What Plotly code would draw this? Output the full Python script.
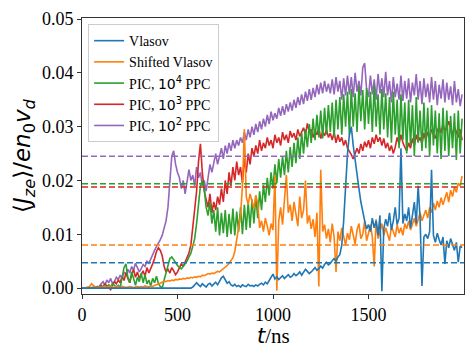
import plotly.graph_objects as go

# time grid (ns), one sample every 10 ns
t_ns = list(range(0, 2000, 10))

vlasov = [
    0, 0, 0, 0, 0, 0, 0, 0, 0, 0,
    0, 0, 0, 0, 0, 0, 0, 0, 0, 0,
    0, 0, 0, 0, 0, 0, 0, 0, 0, 0,
    0, 0, 0, 0, 0, 0, 0, 0, 0, 0,
    0, 0, 0, 0, 0, 0, 0, 0, 0, 0,
    0, 0, 0, 0, 0, 0, 0, 0, 0.0002, 0.0006,
    0.0010, 0.0006, 0.0003, 0.0008, 0.0005, 0.0002, 0.0007, 0.0009, 0.0004, 0.0008,
    0.0011, 0.0006, 0.0014, 0.0019, 0.0022, 0.0015, 0.0009, 0.0012, 0.0006, 0.0004,
    0.0007, 0.0003, 0.0005, 0.0002, 0.0006, 0.0004, 0.0003, 0.0007, 0.0004, 0.0005,
    0.0003, 0.0006, 0.0004, 0.0007, 0.0009, 0.0006, 0.0011, 0.0008, 0.0014, 0.0022,
    0.0026, 0.0017, 0.0021, 0.0016, 0.0019, 0.0023, 0.0018, 0.0021, 0.0025, 0.0020,
    0.0022, 0.0027, 0.0023, 0.0026, 0.0030, 0.0024, 0.0029, 0.0035, 0.0031, 0.0027,
    0.0030, 0.0034, 0.0038, 0.0033, 0.0036, 0.0041, 0.0037, 0.0044, 0.0048, 0.0043,
    0.0046, 0.0051, 0.0055, 0.0050, 0.0058, 0.0062, 0.0080, 0.0125, 0.0190, 0.0250,
    0.0285, 0.0300, 0.0265, 0.0235, 0.0210, 0.0185, 0.0160, 0.0140, 0.0125, 0.0110,
    0.0118, 0.0105, 0.0130, 0.0112, 0.0125, 0.0098, 0.0135, -0.0006, 0.0110, 0.0128,
    0.0115, 0.0140, 0.0108, 0.0125, 0.0150, 0.0118, 0.0130, 0.0260, 0.0120, 0.0138,
    0.0125, 0.0150, 0.0112, 0.0135, 0.0160, 0.0120, 0.0190, 0.0130, 0.0004, 0.0095,
    0.0100, 0.0092, 0.0105, 0.0220, 0.0098, 0.0085, 0.0102, 0.0090, 0.0080, 0.0095,
    0.0045, 0.0088, 0.0075, 0.0092, 0.0080, 0.0070, 0.0085, 0.0048, 0.0078, 0.0075,
]

shifted_vlasov = [
    0, 0, 0.0001, 0.0002, 0.0003, 0.0008, 0.0005, 0.0002, 0.0001, 0.0002,
    0.0001, 0.0002, 0.0003, 0.0001, 0.0002, 0.0004, 0.0002, 0.0001, 0.0003, 0.0002,
    0.0001, 0.0003, 0.0002, 0.0001, 0.0002, 0.0003, 0.0002, 0.0001, 0.0002, 0.0003,
    0.0002, 0.0003, 0.0002, 0.0004, 0.0003, 0.0002, 0.0004, 0.0003, 0.0005, 0.0006,
    0.0007, 0.0009, 0.0011, 0.0013, 0.0012, 0.0014, 0.0013, 0.0015, 0.0014, 0.0016,
    0.0015, 0.0017, 0.0016, 0.0018, 0.0017, 0.0019, 0.0018, 0.0020, 0.0019, 0.0021,
    0.0020, 0.0022, 0.0021, 0.0024, 0.0023, 0.0025, 0.0027, 0.0026, 0.0028, 0.0027,
    0.0029, 0.0031, 0.0030, 0.0033, 0.0035, 0.0038, 0.0042, 0.0046, 0.0050, 0.0056,
    0.0068, 0.0090, 0.0110, 0.0135, 0.0190, 0.0295, 0.0170, 0.0155, 0.0175, 0.0160,
    0.0148, 0.0172, 0.0158, 0.0112, 0.0125, 0.0105, 0.0130, 0.0115, 0.0098, 0.0120,
    0.0108, 0.0210, -0.0005, 0.0125, 0.0150, 0.0118, 0.0165, 0.0210, 0.0140, 0.0155,
    0.0125, 0.0160, 0.0138, 0.0115, 0.0170, 0.0130, 0.0145, 0.0200, 0.0120, 0.0135,
    0.0110, 0.0128, 0.0095, 0.0140, 0.0003, 0.0220, 0.0105, 0.0118, 0.0092, 0.0110,
    0.0085, 0.0120, 0.0095, 0.0030, 0.0105, 0.0088, 0.0112, 0.0095, 0.0080, 0.0102,
    0.0090, 0.0115, 0.0098, 0.0082, 0.0108, 0.0120, 0.0092, 0.0100, 0.0125, 0.0088,
    0.0102, 0.0118, 0.0095, 0.0040, 0.0128, 0.0092, 0.0105, 0.0120, 0.0098, 0.0112,
    0.0100, 0.0088, 0.0115, 0.0105, 0.0095, 0.0118, 0.0102, 0.0112, 0.0098, 0.0120,
    0.0110, 0.0125, 0.0108, 0.0118, 0.0130, 0.0115, 0.0128, 0.0140, 0.0125, 0.0135,
    0.0145, 0.0130, 0.0150, 0.0140, 0.0158, 0.0145, 0.0162, 0.0150, 0.0168, 0.0155,
    0.0165, 0.0178, 0.0160, 0.0182, 0.0170, 0.0188, 0.0178, 0.0195, 0.0190, 0.0208,
]

pic_1e4 = [
    0, 0, 0, 0, 0, 0, 0, 0.0001, 0.0002, 0.0001,
    0.0003, 0.0001, 0.0004, 0.0002, 0.0006, 0.0003, 0.0008, 0.0004, 0.0002, 0.0005,
    0.0001, 0.0020, 0.0038, 0.0045, 0.0020, 0.0010, 0.0030, 0.0018, 0.0005, 0.0020,
    0.0012, 0.0028, 0.0010, 0.0025, 0.0008, 0.0015, 0.0004, 0.0018, 0.0010, 0.0022,
    0.0008, 0.0003, 0.0000, 0.0015, 0.0030, 0.0045, 0.0055, 0.0058, 0.0052, 0.0047,
    0.0042, 0.0038, 0.0036, 0.0040, 0.0045, 0.0050, 0.0058, 0.0065, 0.0078, 0.0092,
    0.0120, 0.0160, 0.0190, 0.0200, 0.0185, 0.0150, 0.0135, 0.0160, 0.0120, 0.0145,
    0.0105, 0.0150, 0.0098, 0.0140, 0.0102, 0.0145, 0.0095, 0.0138, 0.0100, 0.0148,
    0.0098, 0.0142, 0.0105, 0.0150, 0.0100, 0.0155, 0.0108, 0.0160, 0.0112, 0.0165,
    0.0120, 0.0172, 0.0130, 0.0180, 0.0145, 0.0192, 0.0160, 0.0205, 0.0172, 0.0215,
    0.0185, 0.0230, 0.0195, 0.0240, 0.0205, 0.0245, 0.0210, 0.0255, 0.0215, 0.0262,
    0.0225, 0.0270, 0.0232, 0.0280, 0.0240, 0.0288, 0.0250, 0.0295, 0.0262, 0.0305,
    0.0270, 0.0315, 0.0275, 0.0322, 0.0280, 0.0330, 0.0278, 0.0335, 0.0285, 0.0340,
    0.0290, 0.0345, 0.0280, 0.0350, 0.0295, 0.0355, 0.0285, 0.0360, 0.0300, 0.0365,
    0.0285, 0.0370, 0.0300, 0.0362, 0.0290, 0.0375, 0.0310, 0.0368, 0.0295, 0.0372,
    0.0305, 0.0365, 0.0290, 0.0378, 0.0300, 0.0360, 0.0285, 0.0370, 0.0295, 0.0362,
    0.0280, 0.0355, 0.0270, 0.0365, 0.0285, 0.0350, 0.0260, 0.0360, 0.0275, 0.0345,
    0.0250, 0.0350, 0.0265, 0.0340, 0.0245, 0.0355, 0.0270, 0.0330, 0.0255, 0.0345,
    0.0260, 0.0335, 0.0245, 0.0340, 0.0265, 0.0330, 0.0250, 0.0325, 0.0240, 0.0335,
    0.0255, 0.0330, 0.0245, 0.0320, 0.0260, 0.0325, 0.0238, 0.0330, 0.0250, 0.0315,
]

pic_1e3 = [
    0, 0, 0, 0, 0, 0, 0.0001, 0.0002, 0.0001, 0.0003,
    0.0005, 0.0002, 0.0008, 0.0004, 0.0001, -0.0003, 0.0006, 0.0012, 0.0008, 0.0015,
    0.0010, 0.0022, 0.0014, 0.0028, 0.0018, 0.0010, 0.0025, 0.0035, 0.0020, 0.0030,
    0.0018, 0.0025, 0.0032, 0.0022, 0.0038, 0.0028, 0.0035, 0.0045, 0.0055, 0.0068,
    0.0075, 0.0070, 0.0060, 0.0040, 0.0030, 0.0035, 0.0028, 0.0038, 0.0032, 0.0025,
    0.0030, 0.0038, 0.0045, 0.0040, 0.0048, 0.0058, 0.0065, 0.0080, 0.0110, 0.0150,
    0.0180, 0.0235, 0.0268, 0.0215, 0.0180, 0.0165, 0.0150, 0.0175, 0.0140, 0.0160,
    0.0145, 0.0170, 0.0155, 0.0185, 0.0160, 0.0200, 0.0175, 0.0215, 0.0190, 0.0225,
    0.0200, 0.0235, 0.0210, 0.0225, 0.0195, 0.0240, 0.0215, 0.0250, 0.0230, 0.0260,
    0.0245, 0.0265, 0.0250, 0.0275, 0.0255, 0.0270, 0.0260, 0.0280, 0.0265, 0.0275,
    0.0260, 0.0285, 0.0270, 0.0280, 0.0265, 0.0290, 0.0275, 0.0285, 0.0270, 0.0292,
    0.0280, 0.0288, 0.0275, 0.0295, 0.0282, 0.0290, 0.0298, 0.0285, 0.0306, 0.0290,
    0.0295, 0.0280, 0.0292, 0.0285, 0.0298, 0.0278, 0.0290, 0.0283, 0.0295, 0.0280,
    0.0288, 0.0275, 0.0290, 0.0270, 0.0285, 0.0272, 0.0280, 0.0265, 0.0275, 0.0260,
    0.0255, 0.0248, 0.0240, 0.0252, 0.0260, 0.0250, 0.0268, 0.0255, 0.0272, 0.0262,
    0.0275, 0.0260, 0.0280, 0.0268, 0.0285, 0.0272, 0.0280, 0.0265, 0.0278, 0.0260,
    0.0270, 0.0255, 0.0265, 0.0250, 0.0262, 0.0280, 0.0268, 0.0285, 0.0270, 0.0262,
    0.0255, 0.0270, 0.0260, 0.0278, 0.0265, 0.0285, 0.0272, 0.0280, 0.0268, 0.0288,
    0.0275, 0.0290, 0.0280, 0.0295, 0.0285, 0.0278, 0.0292, 0.0300, 0.0288, 0.0305,
    0.0292, 0.0298, 0.0310, 0.0295, 0.0285, 0.0300, 0.0290, 0.0280, 0.0295, 0.0275,
]

pic_1e2 = [
    0, 0, 0, 0, 0, 0.0001, 0.0002, 0.0001, 0.0003, 0.0002,
    0.0008, 0.0012, 0.0005, 0.0015, 0.0010, 0.0018, 0.0008, 0.0012, 0.0020, 0.0016,
    0.0024, 0.0018, 0.0030, 0.0026, 0.0035, 0.0028, 0.0040, 0.0034, 0.0046, 0.0038,
    0.0030, 0.0036, 0.0044, 0.0040, 0.0050, 0.0046, 0.0055, 0.0062, 0.0070, 0.0077,
    0.0083, 0.0090, 0.0098, 0.0110, 0.0125, 0.0150, 0.0190, 0.0245, 0.0255, 0.0230,
    0.0215, 0.0205, 0.0185, 0.0200, 0.0175, 0.0195, 0.0220, 0.0200, 0.0210, 0.0190,
    0.0225, 0.0205, 0.0215, 0.0190, 0.0200, 0.0180, 0.0210, 0.0230, 0.0215, 0.0235,
    0.0250, 0.0230, 0.0245, 0.0260, 0.0240, 0.0265, 0.0250, 0.0270, 0.0255, 0.0275,
    0.0260, 0.0275, 0.0265, 0.0280, 0.0270, 0.0290, 0.0275, 0.0295, 0.0280, 0.0300,
    0.0285, 0.0305, 0.0290, 0.0310, 0.0295, 0.0315, 0.0300, 0.0322, 0.0305, 0.0328,
    0.0312, 0.0325, 0.0315, 0.0335, 0.0320, 0.0338, 0.0322, 0.0342, 0.0328, 0.0345,
    0.0330, 0.0350, 0.0335, 0.0355, 0.0340, 0.0360, 0.0342, 0.0365, 0.0348, 0.0370,
    0.0350, 0.0372, 0.0355, 0.0378, 0.0360, 0.0382, 0.0362, 0.0385, 0.0365, 0.0380,
    0.0362, 0.0388, 0.0360, 0.0392, 0.0365, 0.0385, 0.0350, 0.0390, 0.0358, 0.0395,
    0.0360, 0.0392, 0.0355, 0.0400, 0.0365, 0.0385, 0.0358, 0.0410, 0.0418, 0.0370,
    0.0355, 0.0395, 0.0360, 0.0388, 0.0350, 0.0398, 0.0362, 0.0390, 0.0355, 0.0402,
    0.0358, 0.0385, 0.0345, 0.0392, 0.0355, 0.0380, 0.0350, 0.0395, 0.0348, 0.0385,
    0.0352, 0.0390, 0.0345, 0.0382, 0.0358, 0.0398, 0.0350, 0.0385, 0.0342, 0.0390,
    0.0355, 0.0380, 0.0345, 0.0392, 0.0350, 0.0385, 0.0340, 0.0378, 0.0352, 0.0388,
    0.0345, 0.0382, 0.0350, 0.0375, 0.0340, 0.0385, 0.0345, 0.0370, 0.0338, 0.0360,
]

# saturation (mean) levels shown as dashed lines
level_vals = [0.0047, 0.0080, 0.0194, 0.0188, 0.0245]

SERIF = "Liberation Serif, Tinos, Times New Roman, DejaVu Serif, serif"
SANS = "DejaVu Sans, sans-serif"

names = ["Vlasov", "Shifted Vlasov",
         "PIC, <span style='font-family:DejaVu Sans'>10<sup>4</sup></span> PPC",
         "PIC, <span style='font-family:DejaVu Sans'>10<sup>3</sup></span> PPC",
         "PIC, <span style='font-family:DejaVu Sans'>10<sup>2</sup></span> PPC"]
series = [vlasov, shifted_vlasov, pic_1e4, pic_1e3, pic_1e2]
colors = ["#1f77b4", "#ff7f0e", "#2ca02c", "#d62728", "#9467bd"]

fig = go.Figure()

# draw PIC first, Vlasov last (Vlasov on top), legend in original order
for i in [4, 3, 2, 1, 0]:
    fig.add_trace(go.Scatter(
        x=t_ns, y=series[i], mode="lines", name=names[i],
        line=dict(color=colors[i], width=1.6),
        legendrank=i + 1,
    ))

for i in range(5):
    fig.add_trace(go.Scatter(
        x=[t_ns[0], 2000], y=[level_vals[i], level_vals[i]], mode="lines",
        line=dict(color=colors[i], width=1.5, dash="6px,3px"),
        showlegend=False, hoverinfo="skip",
    ))

fig.add_annotation(
    text="<i>t</i><span style='font-family:Liberation Serif'>/ns</span>",
    xref="paper", yref="paper", x=0.5, y=-0.152, xanchor="center", yanchor="middle",
    showarrow=False, font=dict(family=SANS, size=21, color="black"),
)
fig.add_annotation(
    text="⟨<i>J</i><sub><i>ze</i></sub>⟩/<i>en</i><sub>0</sub><i>v</i><sub><i>d</i></sub>",
    xref="paper", yref="paper", x=-0.152, y=0.5, xanchor="center", yanchor="middle",
    textangle=-90, showarrow=False, font=dict(family=SANS, size=23, color="black"),
)

# the page body adds an 8 px offset, so the figure is 8 px smaller each way
fig.update_layout(
    width=466, height=347,
    margin=dict(l=74, r=10, t=10, b=61, autoexpand=False),
    paper_bgcolor="white", plot_bgcolor="white",
    font=dict(family=SERIF, color="black", size=18),
    showlegend=True,
    legend=dict(
        x=0.016, y=0.978, xanchor="left", yanchor="top",
        bgcolor="rgba(255,255,255,0.85)", bordercolor="#cccccc", borderwidth=1,
        font=dict(family=SERIF, size=14, color="black"),
        itemwidth=30,
    ),
    xaxis=dict(
        range=[0, 2000], tickvals=[0, 500, 1000, 1500],
        ticks="outside", ticklen=4, tickcolor="#333",
        showline=True, linecolor="#333", linewidth=1, mirror=True,
        showgrid=False, zeroline=False, automargin=False,
        tickfont=dict(family=SERIF, size=18),
    ),
    yaxis=dict(
        range=[-0.0011, 0.0502], tickvals=[0, 0.01, 0.02, 0.03, 0.04, 0.05],
        tickformat=".2f",
        ticks="outside", ticklen=4, tickcolor="#333",
        showline=True, linecolor="#333", linewidth=1, mirror=True,
        showgrid=False, zeroline=False, automargin=False,
        tickfont=dict(family=SERIF, size=18),
    ),
)

fig.write_html("out.html")
